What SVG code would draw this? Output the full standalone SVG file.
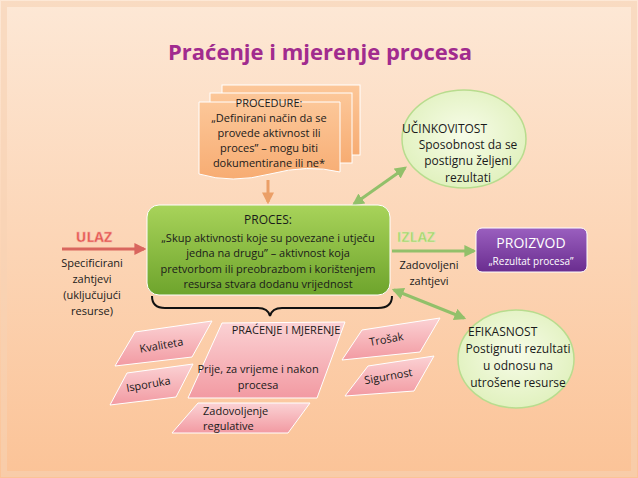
<svg xmlns="http://www.w3.org/2000/svg" width="638" height="478" viewBox="0 0 638 478">
<defs>
<linearGradient id="bg" x1="0" y1="0" x2="0" y2="1"><stop offset="0" stop-color="#fde8d6"/><stop offset="1" stop-color="#fbc397"/></linearGradient>
<linearGradient id="gr" x1="0" y1="0" x2="0" y2="1"><stop offset="0" stop-color="#a8d35a"/><stop offset="1" stop-color="#6ea42c"/></linearGradient>
<linearGradient id="pu" x1="0" y1="0" x2="0" y2="1"><stop offset="0" stop-color="#9a5fbf"/><stop offset="1" stop-color="#6a2d8f"/></linearGradient>
<linearGradient id="pk" x1="0" y1="0" x2="0" y2="1"><stop offset="0" stop-color="#fbd2d4"/><stop offset="1" stop-color="#f29aa2"/></linearGradient>
<linearGradient id="or" x1="0" y1="0" x2="0" y2="1"><stop offset="0" stop-color="#fcc799"/><stop offset="1" stop-color="#f7ac72"/></linearGradient>
<radialGradient id="el" cx="0.5" cy="0.45" r="0.6"><stop offset="0" stop-color="#f7fce8"/><stop offset="1" stop-color="#dff0bb"/></radialGradient>
<marker id="ag" viewBox="0 0 10 10" refX="8" refY="5" markerWidth="4" markerHeight="4" orient="auto-start-reverse"><path d="M0,0L10,5L0,10z" fill="#92c06a"/></marker>
<marker id="ar" viewBox="0 0 10 10" refX="8" refY="5" markerWidth="4" markerHeight="4" orient="auto"><path d="M0,0L10,5L0,10z" fill="#d9665e"/></marker>
<marker id="ao" viewBox="0 0 10 10" refX="8" refY="5" markerWidth="4" markerHeight="4" orient="auto"><path d="M0,0L10,5L0,10z" fill="#eb9f67"/></marker>
</defs>
<style>
text{font-family:"Open Sans","Liberation Sans",sans-serif;fill:#1a1a1a;font-size:11px}
.c{text-anchor:middle}
.pg{fill:url(#pk);stroke:#fff;stroke-width:1}
.g{stroke:#92c06a;stroke-width:3;fill:none}
.pg2{fill:url(#or);stroke:#fff;stroke-width:1}
</style>
<rect width="638" height="478" fill="url(#bg)"/>
<rect x="4" y="4" width="630" height="470" fill="none" stroke="#f6d2b4" stroke-width="6" opacity="0.6"/>
<text x="320" y="60" class="c" style="font-size:22px;font-weight:bold;fill:#a12b8e">Praćenje i mjerenje procesa</text>

<g id="connectors">
<line x1="268" y1="180" x2="268" y2="202" stroke="#eb9f67" stroke-width="3" marker-end="url(#ao)"/>
<line x1="62" y1="249" x2="144" y2="249" stroke="#d9665e" stroke-width="3" marker-end="url(#ar)"/>
<line x1="392" y1="251" x2="474" y2="251" class="g" marker-end="url(#ag)"/>
<line x1="354" y1="204" x2="405" y2="168" class="g" marker-start="url(#ag)" marker-end="url(#ag)"/>
<line x1="394" y1="290" x2="464" y2="318" class="g" marker-start="url(#ag)" marker-end="url(#ag)"/>
<path d="M152,296 Q152,308 165,308 L258,308 Q268,308 270,316 Q272,308 282,308 L378,308 Q392,308 392,296" fill="none" stroke="#111" stroke-width="2"/>
</g>

<g id="procedure">
<rect x="222" y="85" width="138" height="70" class="pg2"/>
<rect x="210" y="93" width="142" height="70" class="pg2"/>
<path d="M199,102 H340 V172 Q308,164 270,174 Q232,184 199,174 Z" class="pg2"/>
<text x="269" y="107" class="c">PROCEDURE:</text>
<text x="269" y="122" class="c">„Definirani način da se</text>
<text x="269" y="137" class="c">provede aktivnost ili</text>
<text x="269" y="152" class="c">proces” – mogu biti</text>
<text x="269" y="167" class="c">dokumentirane ili ne*</text>
</g>

<g id="proces">
<rect x="147" y="205" width="243" height="90" rx="12" fill="url(#gr)" stroke="#fff" stroke-width="1"/>
<text x="268" y="224" class="c" style="font-size:12px">PROCES:</text>
<text x="268" y="242" class="c">„Skup aktivnosti koje su povezane i utječu</text>
<text x="268" y="257" class="c">jedna na drugu” – aktivnost koja</text>
<text x="268" y="273" class="c">pretvorbom ili preobrazbom i korištenjem</text>
<text x="268" y="288" class="c">resursa stvara dodanu vrijednost</text>
</g>

<g id="ulaz">
<text x="94" y="242" class="c" style="font-size:14px;font-weight:bold;fill:#e4574f;stroke:#f5a79f;stroke-width:0.5">ULAZ</text>
<text x="92" y="267" class="c">Specificirani</text>
<text x="92" y="283" class="c">zahtjevi</text>
<text x="92" y="299" class="c">(uključujući</text>
<text x="92" y="315" class="c">resurse)</text>
</g>

<g id="izlaz">
<text x="416" y="242" class="c" style="font-size:14px;font-weight:bold;fill:#a9d36b;stroke:#d9ecb8;stroke-width:0.5">IZLAZ</text>
<text x="429" y="269" class="c">Zadovoljeni</text>
<text x="429" y="285" class="c">zahtjevi</text>
</g>

<g id="proizvod">
<rect x="476" y="228" width="111" height="44" rx="6" fill="url(#pu)" stroke="#fff" stroke-width="1"/>
<text x="531" y="248" class="c" style="font-size:14px;fill:#fff">PROIZVOD</text>
<text x="531" y="265" class="c" style="font-size:10px;fill:#fff">„Rezultat procesa”</text>
</g>

<g id="ucinkovitost">
<ellipse cx="464" cy="139" rx="62" ry="49" fill="url(#el)" stroke="#b8dc8e" stroke-width="1.5"/>
<text x="402" y="133" style="font-size:12px">UČINKOVITOST</text>
<text x="468" y="149" class="c" style="font-size:12px">Sposobnost da se</text>
<text x="468" y="165" class="c" style="font-size:12px">postignu željeni</text>
<text x="468" y="182" class="c" style="font-size:12px">rezultati</text>
</g>

<g id="efikasnost">
<ellipse cx="516" cy="359" rx="58" ry="49" fill="url(#el)" stroke="#b8dc8e" stroke-width="1.5"/>
<text x="468" y="336" style="font-size:12px">EFIKASNOST</text>
<text x="518" y="353" class="c" style="font-size:12px">Postignuti rezultati</text>
<text x="518" y="370" class="c" style="font-size:12px">u odnosu na</text>
<text x="518" y="387" class="c" style="font-size:12px">utrošene resurse</text>
</g>

<g id="kvaliteta"><polygon points="135,332 212,321 192,357 115,366" class="pg"/><text x="162" y="349" class="c" transform="rotate(-10 162 349)">Kvaliteta</text></g>
<g id="isporuka"><polygon points="127,373 193,364 176,397 110,405" class="pg"/><text x="149" y="388" class="c" transform="rotate(-10 149 388)">Isporuka</text></g>
<g id="pracenje"><polygon points="222,323 345,322 317,398 188,398" class="pg"/>
<text x="286" y="334" class="c">PRAĆENJE I MJERENJE</text>
<text x="258" y="373" class="c">Prije, za vrijeme i nakon</text>
<text x="258" y="389" class="c">procesa</text></g>
<g id="zadovoljenje"><polygon points="198,403 310,403 288,433 172,433" class="pg"/>
<text x="203" y="415">Zadovoljenje</text><text x="203" y="430">regulative</text></g>
<g id="trosak"><polygon points="362,330 440,318 420,352 342,360" class="pg"/><text x="387" y="343" class="c" transform="rotate(-10 387 343)">Trošak</text></g>
<g id="sigurnost"><polygon points="368,366 434,356 414,391 345,396" class="pg"/><text x="389" y="380" class="c" transform="rotate(-10 389 380)">Sigurnost</text></g>
</svg>
